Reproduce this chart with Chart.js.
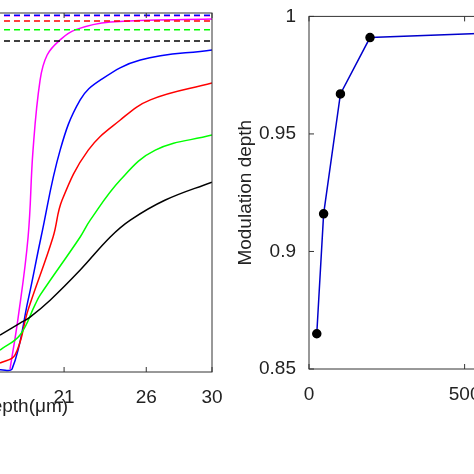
<!DOCTYPE html><html><head><meta charset="utf-8">
<script src="https://cdn.jsdelivr.net/npm/chart.js@4"></script>
<style>body{margin:0;width:474px;height:474px;overflow:hidden;background:#fff;position:relative}
canvas{position:absolute;top:0}</style></head><body>
<canvas id="c1" style="left:-200px;width:430px;height:474px" width="430" height="474"></canvas>
<canvas id="c2" style="left:230px;width:420px;height:474px" width="420" height="474"></canvas>
<script>
const magX=[17.71,18.2,18.81,19.11,19.54,19.97,20.76,21.67,23.81,30];
const magY=[.008,.15,.376,.618,.813,.883,.925,.953,.975,.983];
const bluX=[17.1,17.83,18.81,19.6,20.76,21.98,23.2,25.64,30];
const bluY=[.006,.008,.2,.376,.618,.758,.813,.869,.897];
const redX=[17.1,18.01,18.81,20.33,20.88,22.47,24.42,26.25,30];
const redY=[.025,.047,.173,.376,.479,.618,.702,.758,.805];
const grnX=[17.1,18.32,19.23,19.54,21.98,22.59,24.42,26.55,30];
const grnY=[.061,.103,.187,.214,.376,.423,.535,.618,.66];
const blkX=[17.1,18.32,18.93,20.15,21.98,23.81,25.03,27.16,30];
const blkY=[.103,.136,.153,.2,.284,.376,.423,.479,.529];
const dashLevels=[.994,.992,.978,.953,.922];
const dashColors=['#0000ff','#ff00ff','#ff0000','#00ff00','#000000'];
const leftTicks=[21,26,30];
const lenX=[25,47,101,196,1000];
const depthY=[0.865,0.916,0.967,0.991,0.995];
const rightYTicks=[0.85,0.9,0.95,1];
const rightXTicks=[0,500,1000];

const FONT='"Liberation Sans", Arial, sans-serif';
Chart.defaults.font.family=FONT;
Chart.defaults.color='#222';
const box={id:'box',afterDraw(c){const a=c.chartArea,x=c.ctx;x.save();x.strokeStyle='#333';x.lineWidth=1;x.strokeRect(a.left,a.top,a.right-a.left,a.bottom-a.top);
 const xs=c.scales.x,ys=c.scales.y;x.beginPath();
 xs.ticks.forEach(t=>{const p=xs.getPixelForValue(t.value);x.moveTo(p,a.bottom);x.lineTo(p,a.bottom-5);x.moveTo(p,a.top);x.lineTo(p,a.top+5);});
 if(ys.options.display!==false) ys.ticks.forEach(t=>{const p=ys.getPixelForValue(t.value);x.moveTo(a.left,p);x.lineTo(a.left+5,p);x.moveTo(a.right,p);x.lineTo(a.right-5,p);});
 x.stroke();x.restore();}};
const zip=(X,Y)=>X.map((v,i)=>({x:v,y:Y[i]}));
const curve=(X,Y,c)=>({data:zip(X,Y),borderColor:c,borderWidth:1.5,pointRadius:0,tension:0.4,fill:false});
const ds=[];
dashLevels.forEach((l,i)=>ds.push({data:[{x:7.0,y:l},{x:30,y:l}],borderColor:dashColors[i],borderWidth:1.5,borderDash:[6,4],pointRadius:0}));
ds.push(curve(blkX,blkY,'#000000'),curve(grnX,grnY,'#00ff00'),curve(redX,redY,'#ff0000'),curve(bluX,bluY,'#0000ff'),curve(magX,magY,'#ff00ff'));
new Chart(document.getElementById('c1'),{type:'line',data:{datasets:ds},plugins:[box],
 options:{responsive:false,animation:false,layout:{padding:{left:34,right:18,top:13,bottom:52}},plugins:{legend:{display:false},tooltip:{enabled:false}},
 scales:{x:{type:'linear',min:7.0,max:30,afterBuildTicks:s=>{s.ticks=leftTicks.map(v=>({value:v}))},afterFit:s=>{s.height=50},
   grid:{display:false},border:{display:false},ticks:{font:{size:19},padding:6,maxRotation:0},
   title:{display:true,text:'Depth(μm)',font:{size:19},padding:{top:0}}},
  y:{min:0,max:1,display:false}}}});
new Chart(document.getElementById('c2'),{type:'line',data:{datasets:[{data:zip(lenX,depthY),borderColor:'#0000cc',borderWidth:1.5,pointRadius:4,pointBackgroundColor:'#000',pointBorderColor:'#000',tension:0}]},plugins:[box],
 options:{responsive:false,animation:false,layout:{padding:{left:0,right:25,top:14,bottom:0}},plugins:{legend:{display:false},tooltip:{enabled:false}},
 scales:{x:{type:'linear',min:0,max:1000,afterBuildTicks:s=>{s.ticks=rightXTicks.map(v=>({value:v}))},afterFit:s=>{s.height=105},
   grid:{display:false},border:{display:false},ticks:{font:{size:19},padding:6,maxRotation:0}},
  y:{min:0.85,max:1,afterBuildTicks:s=>{s.ticks=rightYTicks.map(v=>({value:v}))},afterFit:s=>{s.width=79},
   grid:{display:false},border:{display:false},ticks:{font:{size:19},padding:5,callback:v=>String(v)},
   title:{display:true,text:'Modulation depth',font:{size:19},padding:{bottom:0}}}}}});
</script></body></html>
